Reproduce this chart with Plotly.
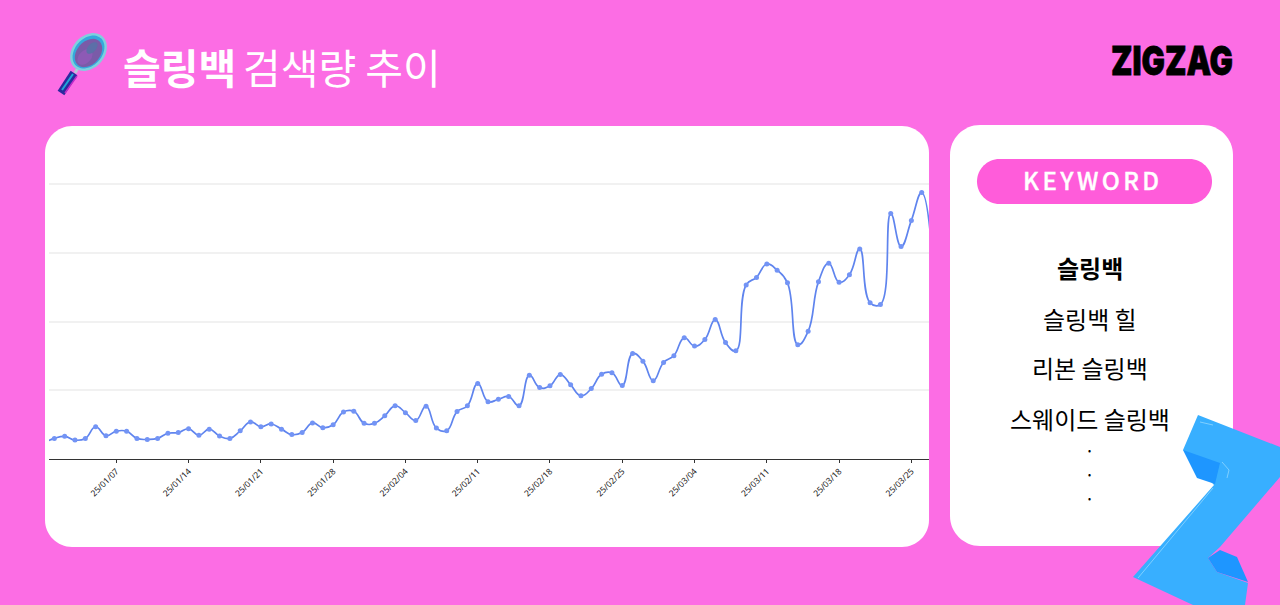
import numpy as np
import pandas as pd
import plotly.graph_objects as go

W, H = 1280, 605

# Daily search-volume index, 2024-12-31 .. 2025-03-27
start_date = "2024-12-31"
search_index = [
    4.8, 6.0, 6.6, 5.5, 6.0, 9.4, 6.8, 8.1, 8.1, 6.0, 5.7, 6.0, 7.5, 7.7, 8.8, 6.9, 8.7, 6.7, 6.0, 8.2,
    10.8, 9.4, 10.2, 8.7, 7.1, 7.7, 10.5, 9.1, 10.0, 13.7, 13.9, 10.4, 10.4, 12.6, 15.5, 13.5, 11.2, 15.4,
    9.0, 8.2, 13.8, 15.5, 22.0, 16.7, 17.4, 18.2, 15.5, 24.4, 20.8, 21.3, 24.6, 21.6, 18.4, 20.5, 24.7,
    25.1, 21.4, 30.7, 28.5, 22.8, 28.1, 30.1, 35.3, 32.9, 34.8, 40.6, 33.9, 31.5, 50.7, 52.9, 56.8, 55.0,
    51.3, 33.3, 37.2, 51.6, 57.0, 51.5, 53.7, 61.2, 45.5, 45.0, 71.5, 61.9, 69.5, 77.6, 59.5,
]
dates = pd.date_range(start_date, periods=len(search_index), freq="D")

title_bold = "슬링백"
title_rest = "검색량 추이"
brand = "ZIGZAG"
panel_title = "KEYWORD"
keywords = ["슬링백", "슬링백 힐", "리본 슬링백", "스웨이드 슬링백"]

PINK = "#FC6DE4"
PILL = "#FF5CDA"
LINE = "#5F84EE"
DOT = "#7394F5"
KR = "Noto Sans CJK KR"


def px(x):
    return x / W


def py(y):
    return 1 - y / H


def rounded(x0, y0, x1, y1, r):
    k = 0.45 * r
    pts = [
        ("M", x0 + r, y0), ("L", x1 - r, y0),
        ("C", x1 - k, y0, x1, y0 + k, x1, y0 + r), ("L", x1, y1 - r),
        ("C", x1, y1 - k, x1 - k, y1, x1 - r, y1), ("L", x0 + r, y1),
        ("C", x0 + k, y1, x0, y1 - k, x0, y1 - r), ("L", x0, y0 + r),
        ("C", x0, y0 + k, x0 + k, y0, x0 + r, y0),
    ]
    out = ""
    for p in pts:
        out += p[0] + " ".join(
            f"{px(p[i]):.5f},{py(p[i + 1]):.5f}" for i in range(1, len(p), 2)
        )
    return out + "Z"


def poly(points):
    return "M" + "L".join(f"{px(x):.5f},{py(y):.5f}" for x, y in points) + "Z"


def ellipse(cx, cy, rx, ry, deg):
    t = np.linspace(0, 2 * np.pi, 48, endpoint=False)
    a = np.radians(deg)
    xs = cx + rx * np.cos(t) * np.cos(a) - ry * np.sin(t) * np.sin(a)
    ys = cy + rx * np.cos(t) * np.sin(a) + ry * np.sin(t) * np.cos(a)
    return poly(list(zip(xs, ys)))


def fill_shape(path, color, layer="above", opacity=1):
    return dict(type="path", path=path, xref="paper", yref="paper", fillcolor=color,
                line=dict(width=0), layer=layer, opacity=opacity)


def seg(x0, y0, x1, y1, color, width):
    return dict(type="line", xref="paper", yref="paper", x0=px(x0), y0=py(y0), x1=px(x1), y1=py(y1),
                line=dict(color=color, width=width), layer="above")


shapes = [
    fill_shape(rounded(45, 126, 929, 547, 27), "#FFFFFF", "below"),
    fill_shape(rounded(950, 125, 1233, 546, 30), "#FFFFFF", "below"),
    fill_shape(rounded(977, 159, 1212, 204, 22.5), PILL, "below"),
    # magnifier
    seg(79, 66, 75, 73, "#B9C6D8", 3),
    seg(74, 73, 61, 93, "#2B2A9E", 8),
    seg(73, 74, 62, 90, "#1FA6D8", 2),
    seg(77, 76, 65, 93, "#C02BC8", 1.5),
    fill_shape(ellipse(88.5, 52, 21, 16, -48), "#7FD0DE"),
    fill_shape(ellipse(88.5, 52, 18.5, 13.5, -48), "#35A9DC"),
    fill_shape(ellipse(88.5, 53, 16, 11.5, -48), "#7A5BA8"),
    fill_shape(ellipse(85, 57, 9, 6, -48), "#8D5AB5"),
    fill_shape(ellipse(92, 48, 7, 4, -48), "#5C6FA8"),
    # Z badge
    fill_shape(poly([(1198, 415), (1280, 447), (1280, 477), (1220, 547), (1208, 558), (1217, 572),
                     (1248, 583), (1245, 605), (1193, 605), (1133, 577), (1214, 485), (1183, 450)]), "#38AFFF"),
    fill_shape(poly([(1183, 450), (1197, 478), (1215, 484), (1220, 463)]), "#1E96FF"),
    fill_shape(poly([(1208, 558), (1220, 550), (1237, 557), (1248, 582), (1217, 572)]), "#1E96FF"),
    seg(1138, 578, 1213, 488, "#7FCFFF", 1),
    seg(1222, 462, 1229, 470, "#7FCFFF", 1),
    seg(1229, 470, 1227, 478, "#7FCFFF", 1),
    seg(1200, 422, 1213, 425, "#7FCFFF", 1),
]

annotations = [
    dict(x=px(121), y=py(65.5), xref="paper", yref="paper", xanchor="left", yanchor="middle", showarrow=False,
         text=f"<b>{title_bold}</b>", font=dict(family=KR, size=41, color="#FFFFFF")),
    dict(x=px(241), y=py(65.5), xref="paper", yref="paper", xanchor="left", yanchor="middle", showarrow=False,
         text=title_rest, font=dict(family=KR, size=41, color="#FFFFFF", weight=400)),
    dict(x=px(1172), y=py(61), xref="paper", yref="paper", xanchor="center", yanchor="middle", showarrow=False,
         text=brand, font=dict(family="Inter", size=31, color="#000000", weight=900)),
    dict(x=px(1093), y=py(179.5), xref="paper", yref="paper", xanchor="center", yanchor="middle", showarrow=False,
         text=panel_title, font=dict(family=KR, size=24, color="#FFFFFF", weight=500)),
]
for i, (kw, y) in enumerate(zip(keywords, [267.5, 318, 368, 418])):
    annotations.append(dict(x=px(1090), y=py(y), xref="paper", yref="paper", xanchor="center", yanchor="middle",
                            showarrow=False, text=f"<b>{kw}</b>" if i == 0 else kw,
                            font=dict(family=KR, size=24, color="#000000")))
for y in [450, 474, 498]:
    annotations.append(dict(x=px(1089), y=py(y), xref="paper", yref="paper", xanchor="center", yanchor="middle",
                            showarrow=False, text="•", font=dict(family=KR, size=9, color="#000000")))

fig = go.Figure(go.Scatter(
    x=dates, y=search_index, mode="lines+markers", cliponaxis=True,
    line=dict(color=LINE, width=1.7, shape="spline", smoothing=1.3),
    marker=dict(color=DOT, size=5), hoverinfo="skip",
))
fig.update_layout(
    width=W, height=H, margin=dict(l=0, r=0, t=0, b=0), paper_bgcolor=PINK, plot_bgcolor="rgba(0,0,0,0)",
    showlegend=False, shapes=shapes, annotations=annotations,
    xaxis=dict(domain=[px(49), px(929)], range=["2024-12-31 11:35", "2025-03-26 16:56"], type="date",
               tick0="2025-01-07", dtick=7 * 86400000, tickformat="%y/%m/%d", tickangle=-45,
               ticks="outside", ticklen=3, tickwidth=1, tickcolor="#333333",
               tickfont=dict(family="Noto Sans", size=8.5, color="#222222"),
               showgrid=False, showline=True, linecolor="#333333", linewidth=1, zeroline=False),
    yaxis=dict(domain=[py(459), py(150)], range=[0, 90], dtick=20, showgrid=True, gridcolor="#F1F1F1",
               gridwidth=1.5, zeroline=False, showticklabels=False, ticks="", showline=False),
)

post = """
document.body.style.margin='0';document.body.style.overflow='hidden';
document.querySelectorAll('.annotation-text').forEach(function(t){
  var s=t.textContent;
  if(s==='KEYWORD'){t.style.letterSpacing='3.4px';t.style.stroke='#fff';t.style.strokeWidth='0.35px';}
  if(s==='ZIGZAG'){t.style.transformBox='fill-box';t.style.transformOrigin='center';
    t.style.transform='scale(1,1.3)';t.style.stroke='#000';t.style.strokeWidth='0.6px';}
});
"""
fig.write_html("out.html", post_script=post, config={"displayModeBar": False})
